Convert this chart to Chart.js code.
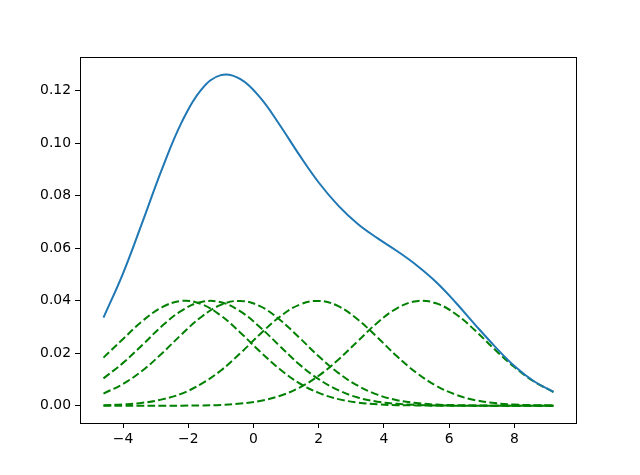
<!DOCTYPE html>
<html>
<head>
<meta charset="utf-8">
<script src="https://cdn.jsdelivr.net/npm/chart.js@4.4.1/dist/chart.umd.min.js"></script>
<style>
  html, body { margin: 0; padding: 0; background: #fff; }
  #wrap { width: 640px; height: 475px; }
</style>
</head>
<body>
<div id="wrap"><canvas id="kde" width="640" height="475"></canvas></div>
<script>
const xs = [-4.6, -4.0, -3.4, -2.8, -2.2, -1.6, -1.0, -0.4, 0.2, 0.8, 1.4, 2.0,
            2.6, 3.2, 3.8, 4.4, 5.0, 5.6, 6.2, 6.8, 7.4, 8.0, 8.6, 9.2];

// curva total (azul)
const densidad = [0.0335, 0.0504, 0.0701, 0.0903, 0.1080, 0.1204, 0.1259, 0.1244,
                  0.1174, 0.1070, 0.0956, 0.0850, 0.0762, 0.0692, 0.0638, 0.0589,
                  0.0535, 0.0471, 0.0393, 0.0308, 0.0226, 0.0151, 0.0093, 0.0053];

// núcleos individuales (verde discontinuo)
const nucleo1 = [0.0183, 0.0254, 0.0323, 0.0375, 0.0399, 0.0387, 0.0343, 0.0278,
                 0.0206, 0.0140, 0.0086, 0.0049, 0.0025, 0.0012, 0.0005, 0.0002,
                 0.0001, 0.0000, 0.0000, 0.0000, 0.0000, 0.0000, 0.0000, 0.0000];
const nucleo2 = [0.0104, 0.0163, 0.0232, 0.0304, 0.0362, 0.0395, 0.0394, 0.0359,
                 0.0299, 0.0228, 0.0158, 0.0101, 0.0059, 0.0031, 0.0015, 0.0007,
                 0.0003, 0.0001, 0.0000, 0.0000, 0.0000, 0.0000, 0.0000, 0.0000];
const nucleo3 = [0.0046, 0.0083, 0.0134, 0.0200, 0.0272, 0.0338, 0.0384, 0.0399,
                 0.0379, 0.0328, 0.0260, 0.0188, 0.0125, 0.0076, 0.0042, 0.0021,
                 0.0010, 0.0004, 0.0002, 0.0001, 0.0000, 0.0000, 0.0000, 0.0000];
const nucleo4 = [0.0002, 0.0005, 0.0011, 0.0024, 0.0046, 0.0083, 0.0134, 0.0200,
                 0.0272, 0.0338, 0.0384, 0.0399, 0.0379, 0.0328, 0.0260, 0.0188,
                 0.0125, 0.0076, 0.0042, 0.0021, 0.0010, 0.0004, 0.0002, 0.0001];
const nucleo5 = [0.0000, 0.0000, 0.0000, 0.0000, 0.0000, 0.0001, 0.0003, 0.0008,
                 0.0018, 0.0037, 0.0068, 0.0114, 0.0175, 0.0246, 0.0316, 0.0371,
                 0.0398, 0.0390, 0.0349, 0.0286, 0.0214, 0.0147, 0.0092, 0.0052];
const nucleos = [nucleo1, nucleo2, nucleo3, nucleo4, nucleo5];

// marcas de los ejes
const xTicks = [-4, -2, 0, 2, 4, 6, 8];
const yTicks = [0.00, 0.02, 0.04, 0.06, 0.08, 0.10, 0.12];

const aPuntos = serie => xs.map((x, i) => ({ x: x, y: serie[i] }));

// marco negro alrededor del área del gráfico
const marco = {
  id: 'marco',
  afterDraw(chart) {
    const a = chart.chartArea;
    const ctx = chart.ctx;
    ctx.save();
    ctx.strokeStyle = '#000';
    ctx.lineWidth = 1;
    ctx.strokeRect(Math.round(a.left) + 0.5, Math.round(a.top) + 0.5,
                   Math.round(a.right - a.left), Math.round(a.bottom - a.top));
    ctx.restore();
  }
};

const datasets = [{
  data: aPuntos(densidad),
  borderColor: '#1f77b4',
  borderWidth: 2,
  pointRadius: 0,
  tension: 0.4,
  fill: false
}];
nucleos.forEach(n => datasets.push({
  data: aPuntos(n),
  borderColor: '#008000',
  borderWidth: 2,
  borderDash: [7.7, 3.3],
  pointRadius: 0,
  tension: 0.4,
  fill: false
}));

const fuente = { family: 'DejaVu Sans', size: 13.9 };

new Chart(document.getElementById('kde').getContext('2d'), {
  type: 'line',
  data: { datasets: datasets },
  options: {
    responsive: false,
    animation: false,
    layout: { padding: { left: 0, right: 64, top: 57, bottom: 0 } },
    plugins: { legend: { display: false }, tooltip: { enabled: false } },
    scales: {
      x: {
        type: 'linear',
        min: -5.32,
        max: 9.89,
        afterBuildTicks: s => { s.ticks = xTicks.map(v => ({ value: v })); },
        afterFit: s => { s.height = 52; },
        grid: { drawOnChartArea: false, drawTicks: true, tickLength: 5, color: '#000' },
        border: { display: true, color: '#000' },
        ticks: {
          color: '#000',
          font: fuente,
          padding: 3,
          maxRotation: 0,
          callback: v => (v < 0 ? '\u2212' + Math.abs(v) : String(v))
        }
      },
      y: {
        type: 'linear',
        min: -0.0066,
        max: 0.1328,
        afterBuildTicks: s => { s.ticks = yTicks.map(v => ({ value: v })); },
        afterFit: s => { s.width = 80; },
        grid: { drawOnChartArea: false, drawTicks: true, tickLength: 5, color: '#000' },
        border: { display: true, color: '#000' },
        ticks: {
          color: '#000',
          font: fuente,
          padding: 4,
          callback: v => v.toFixed(2)
        }
      }
    }
  },
  plugins: [marco]
});
</script>
</body>
</html>
